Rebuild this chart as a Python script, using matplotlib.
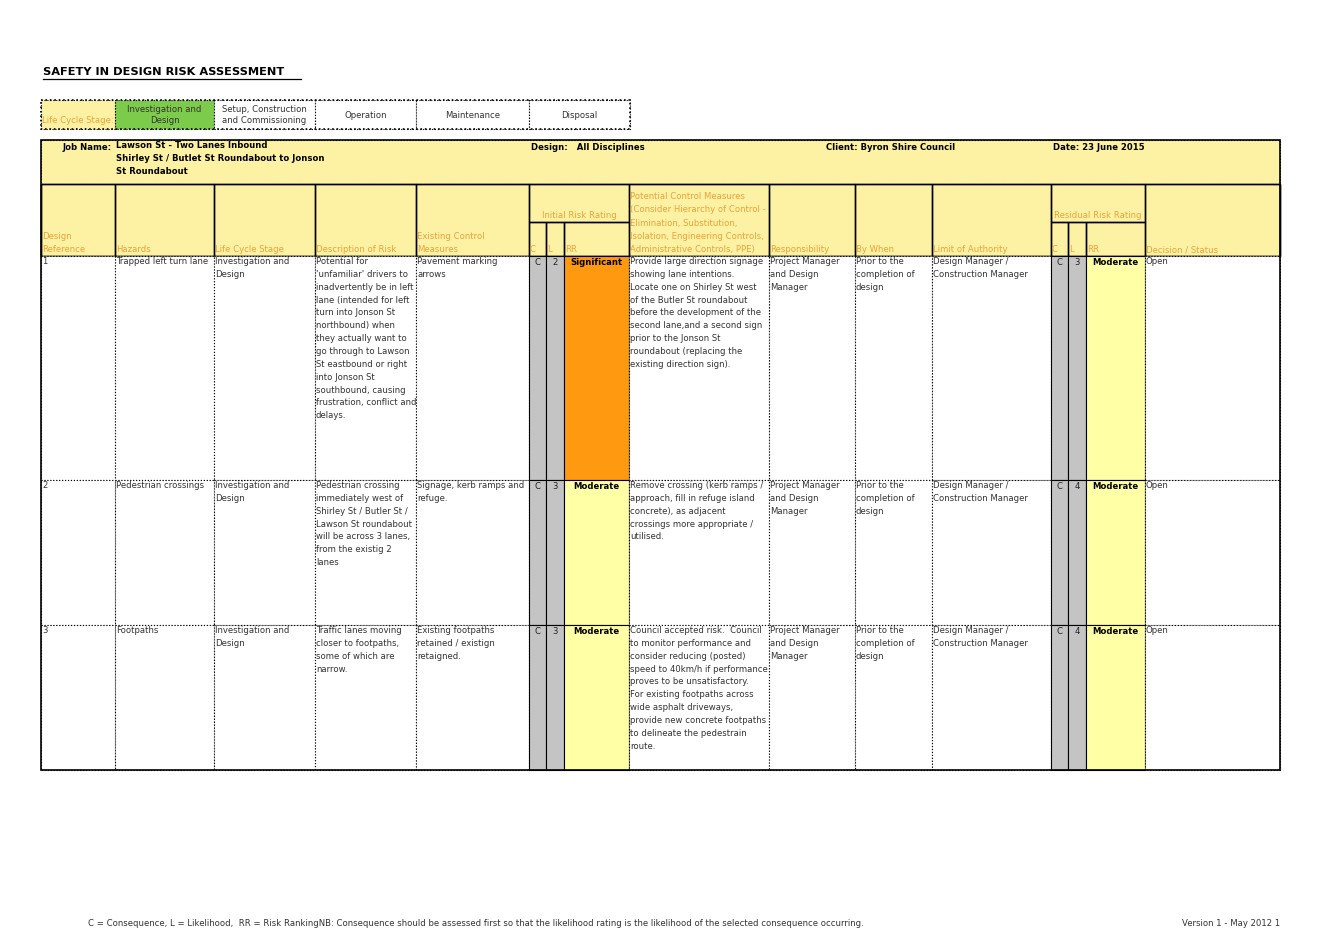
import matplotlib
matplotlib.use('Agg')
import matplotlib.pyplot as plt
from matplotlib.patches import Rectangle

# ---- data ----
stages = ['Investigation and\nDesign', 'Setup, Construction\nand Commissioning', 'Operation', 'Maintenance', 'Disposal']
headers = ['Design\nReference', 'Hazards', 'Life Cycle Stage', 'Description of Risk', 'Existing Control\nMeasures',
           'C', 'L', 'RR',
           'Potential Control Measures\n(Consider Hierarchy of Control -\nElimination, Substitution,\nIsolation, Engineering Controls,\nAdministrative Controls, PPE)',
           'Responsibility', 'By When', 'Limit of Authority', 'C', 'L', 'RR', 'Decision / Status']
refs = ['1', '2', '3']
hazards = ['Trapped left turn lane', 'Pedestrian crossings', 'Footpaths']
row_stage = ['Investigation and\nDesign'] * 3
descriptions = [
    "Potential for\n'unfamiliar' drivers to\ninadvertently be in left\nlane (intended for left\nturn into Jonson St\nnorthbound) when\nthey actually want to\ngo through to Lawson\nSt eastbound or right\ninto Jonson St\nsouthbound, causing\nfrustration, conflict and\ndelays.",
    "Pedestrian crossing\nimmediately west of\nShirley St / Butler St /\nLawson St roundabout\nwill be across 3 lanes,\nfrom the existig 2\nlanes",
    "Traffic lanes moving\ncloser to footpaths,\nsome of which are\nnarrow.",
]
existing = ['Pavement marking\narrows', 'Signage, kerb ramps and\nrefuge.', 'Existing footpaths\nretained / existign\nretaigned.']
init_c = ['C', 'C', 'C']
init_l = ['2', '3', '3']
init_rr = ['Significant', 'Moderate', 'Moderate']
potential = [
    "Provide large direction signage\nshowing lane intentions.\nLocate one on Shirley St west\nof the Butler St roundabout\nbefore the development of the\nsecond lane,and a second sign\nprior to the Jonson St\nroundabout (replacing the\nexisting direction sign).",
    "Remove crossing (kerb ramps /\napproach, fill in refuge island\nconcrete), as adjacent\ncrossings more appropriate /\nutilised.",
    "Council accepted risk.  Council\nto monitor performance and\nconsider reducing (posted)\nspeed to 40km/h if performance\nproves to be unsatisfactory.\nFor existing footpaths across\nwide asphalt driveways,\nprovide new concrete footpaths\nto delineate the pedestrain\nroute.",
]
responsibility = ['Project Manager\nand Design\nManager'] * 3
by_when = ['Prior to the\ncompletion of\ndesign'] * 3
authority = ['Design Manager /\nConstruction Manager'] * 3
res_c = ['C', 'C', 'C']
res_l = ['3', '4', '4']
res_rr = ['Moderate', 'Moderate', 'Moderate']
status = ['Open', 'Open', 'Open']

# ---- layout ----
YEL = '#fdf2a4'
HDR = '#e8a33b'
RR_COL = {'Significant': '#ff9a10', 'Moderate': '#ffffa6'}
xs = [41, 115, 214, 315, 416, 529, 546, 564, 629, 769, 855, 932, 1051, 1068, 1086, 1145, 1280]
row_y = [256, 480, 625, 770]
FS = 6.1

fig = plt.figure(figsize=(13.39, 9.47), dpi=100)
ax = fig.add_axes([0, 0, 1, 1])
ax.set_xlim(0, 1339)
ax.set_ylim(947, 0)
ax.axis('off')

def box(x0, y0, x1, y1, fc='white', ls=':', lw=0.8, ec='black'):
    ax.add_patch(Rectangle((x0, y0), x1 - x0, y1 - y0, facecolor=fc, edgecolor=ec, lw=lw, linestyle=ls))

ax.text(43, 72, 'SAFETY IN DESIGN RISK ASSESSMENT', fontsize=8.2, fontweight='bold', va='center')
ax.plot([43, 301], [78.5, 78.5], color='black', lw=0.9)

# life cycle strip
sx = [41, 115, 214, 315, 416, 529, 630]
box(41, 100, 115, 129, fc=YEL)
ax.text(78, 120, 'Life Cycle Stage:', fontsize=FS, color=HDR, ha='center', va='center')
for i, s in enumerate(stages):
    box(sx[i + 1], 100, sx[i + 2], 129, fc='#7dcb4a' if i == 0 else 'white')
    ax.text((sx[i + 1] + sx[i + 2]) / 2, 115, s, fontsize=FS, color='#333333',
            ha='center', va='center', linespacing=1.25)
box(41, 100, 630, 129, fc='none', lw=1.2)

# job block
box(41, 140, 1280, 184, fc=YEL)
ax.text(112, 147, 'Job Name:', fontsize=FS, fontweight='bold', va='center', ha='right')
ax.text(116, 141, 'Lawson St - Two Lanes Inbound\nShirley St / Butlet St Roundabout to Jonson\nSt Roundabout',
        fontsize=FS, fontweight='bold', va='top', linespacing=1.6)
ax.text(531, 147, 'Design:   All Disciplines', fontsize=FS, fontweight='bold', va='center')
ax.text(826, 147, 'Client: Byron Shire Council', fontsize=FS, fontweight='bold', va='center')
ax.text(1053, 147, 'Date: 23 June 2015', fontsize=FS, fontweight='bold', va='center')

# header row
box(41, 184, 1280, 256, fc=YEL, ls='-', lw=1.0)
for i, h in enumerate(headers):
    x0, x1 = xs[i], xs[i + 1]
    if i in (5, 6, 7, 12, 13, 14):
        box(x0, 222, x1, 256, fc='none', ls='-', lw=1.0)
    else:
        box(x0, 184, x1, 256, fc='none', ls='-', lw=1.0)
    ax.text(x0 + 1, 254, h, fontsize=FS, color=HDR, va='bottom', linespacing=1.6)
for a, b, t in [(529, 629, 'Initial Risk Rating'), (1051, 1145, 'Residual Risk Rating')]:
    box(a, 184, b, 222, fc='none', ls='-', lw=1.0)
    ax.text((a + b) / 2, 215, t, fontsize=FS, color=HDR, ha='center', va='center')

# body rows
cols = [refs, hazards, row_stage, descriptions, existing, init_c, init_l, init_rr, potential,
        responsibility, by_when, authority, res_c, res_l, res_rr, status]
for r in range(3):
    y0, y1 = row_y[r], row_y[r + 1]
    for c, col in enumerate(cols):
        x0, x1 = xs[c], xs[c + 1]
        val = col[r]
        if c in (5, 6, 12, 13):
            box(x0, y0, x1, y1, fc='#c4c4c4', ls='-', lw=0.8)
            ax.text((x0 + x1) / 2, y0 + 6, val, fontsize=FS, ha='center', va='center', color='#222222')
        elif c in (7, 14):
            box(x0, y0, x1, y1, fc=RR_COL[val], ls='-', lw=0.8)
            ax.text((x0 + x1) / 2, y0 + 6, val, fontsize=FS, fontweight='bold', ha='center', va='center')
        else:
            box(x0, y0, x1, y1, fc='white')
            ax.text(x0 + 1, y0 + 1, val, fontsize=FS, va='top', color='#333333', linespacing=1.55)
box(41, 140, 1280, 770, fc='none', ls='-', lw=1.2)

ax.text(88, 923, 'C = Consequence, L = Likelihood,  RR = Risk RankingNB: Consequence should be assessed first so that the likelihood rating is the likelihood of the selected consequence occurring.',
        fontsize=FS, va='center', color='#333333')
ax.text(1280, 923, 'Version 1 - May 2012 1', fontsize=FS, va='center', ha='right', color='#333333')

fig.savefig('out.png', dpi=100)
